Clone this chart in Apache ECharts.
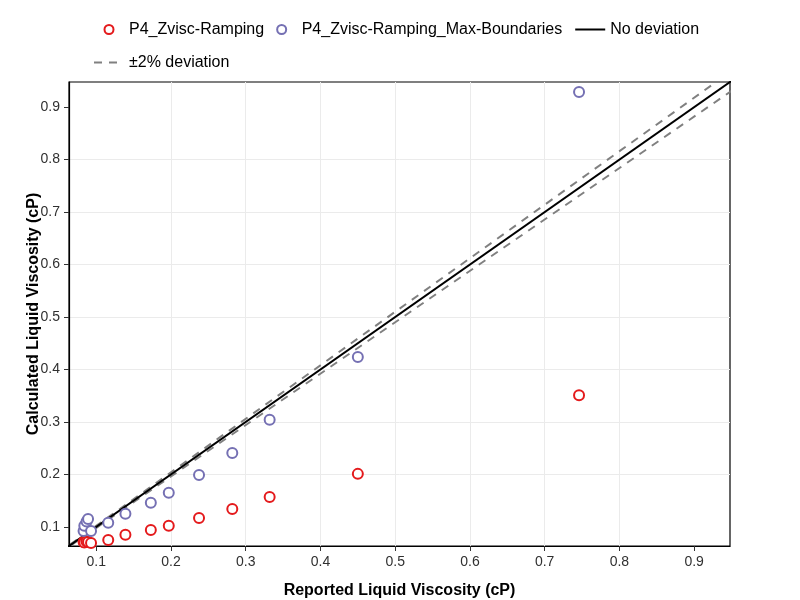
<!DOCTYPE html>
<html>
<head>
<meta charset="utf-8">
<script src="https://cdn.jsdelivr.net/npm/echarts@6/dist/echarts.min.js"></script>
<style>
  html, body { margin: 0; padding: 0; background: #fff; }
  #chart { width: 800px; height: 600px; }
</style>
</head>
<body>
<div id="chart"></div>
<script>
// reported viscosity (x) for each case
var reported = [0.083, 0.084, 0.087, 0.089, 0.093, 0.116, 0.139, 0.173, 0.197, 0.2375, 0.282, 0.332, 0.45, 0.746];
// calculated viscosity, P4_Zvisc-Ramping
var calcRamping = [0.071, 0.070, 0.072, 0.071, 0.069, 0.075, 0.085, 0.094, 0.102, 0.117, 0.134, 0.157, 0.201, 0.351];
// calculated viscosity, P4_Zvisc-Ramping_Max-Boundaries
var calcMaxBound = [0.092, 0.102, 0.110, 0.115, 0.092, 0.108, 0.125, 0.146, 0.165, 0.199, 0.241, 0.304, 0.424, 0.929];
// tick labels on both axes
var tickValues = [0.1, 0.2, 0.3, 0.4, 0.5, 0.6, 0.7, 0.8, 0.9];
// reference lines
var refX = [0.0, 1.0];
var devFactor = 0.02;

var axisMin = 0.0635, axisMax = 0.948;
var font = 'Liberation Sans';

function pairs(xs, ys) {
    var out = [];
    for (var i = 0; i < xs.length; i++) {
        out.push([xs[i], ys[i]]);
    }
    return out;
}

var noDev = refX.map(function (x) { return [x, x]; });
var upDev = refX.map(function (x) { return [x, x * (1 + devFactor)]; });
var loDev = refX.map(function (x) { return [x, x * (1 - devFactor)]; });

var myChart = echarts.init(document.getElementById('chart'));

function axis(name, gap) {
    return {
        type: 'value',
        min: axisMin,
        max: axisMax,
        splitNumber: 9,
        name: name,
        nameLocation: 'middle',
        nameGap: gap,
        nameMoveOverlap: false,
        nameTextStyle: { fontFamily: font, fontSize: 16, fontWeight: 'bold', color: '#000' },
        axisLine: { show: true, lineStyle: { color: '#000', width: 1.2 } },
        axisTick: { show: true, length: 5, customValues: tickValues, lineStyle: { color: '#333' } },
        axisLabel: {
            customValues: tickValues,
            fontFamily: font, fontSize: 14, color: '#303030', margin: 9,
            formatter: function (v) { return (+v.toFixed(2)).toString(); }
        },
        splitLine: { show: true, showMinLine: false, showMaxLine: false, lineStyle: { color: '#ebebeb', width: 1 } }
    };
}

var option = {
    animation: false,
    backgroundColor: '#fff',
    grid: {
        left: 69, right: 70, top: 82, bottom: 54,
        outerBoundsMode: 'none',
        show: true, borderColor: '#000', borderWidth: 1.2
    },
    legend: {
        left: 88, top: 14, width: 650,
        itemGap: 12, itemWidth: 30, itemHeight: 9,
        textStyle: { fontFamily: font, fontSize: 16, color: '#000', lineHeight: 21 },
        data: [
            { name: 'P4_Zvisc-Ramping' },
            { name: 'P4_Zvisc-Ramping_Max-Boundaries' },
            { name: 'No deviation', itemStyle: { opacity: 0 } },
            { name: '±2% deviation', itemStyle: { opacity: 0 } }
        ]
    },
    xAxis: axis('Reported Liquid Viscosity (cP)', 37),
    yAxis: axis('Calculated Liquid Viscosity (cP)', 27),
    series: [
        {
            name: '±2% deviation',
            type: 'line',
            data: upDev,
            symbol: 'none',
            clip: true,
            itemStyle: { color: '#808080' },
            lineStyle: { color: '#808080', width: 2, type: [8, 7] },
            z: 1
        },
        {
            name: '±2% deviation',
            type: 'line',
            data: loDev,
            symbol: 'none',
            clip: true,
            itemStyle: { color: '#808080' },
            lineStyle: { color: '#808080', width: 2, type: [8, 7] },
            z: 1
        },
        {
            name: 'No deviation',
            type: 'line',
            data: noDev,
            symbol: 'none',
            clip: true,
            itemStyle: { color: '#000' },
            lineStyle: { color: '#000', width: 2 },
            z: 2
        },
        {
            name: 'P4_Zvisc-Ramping',
            type: 'scatter',
            data: pairs(reported, calcRamping),
            symbol: 'emptyCircle',
            symbolSize: 10,
            itemStyle: { color: '#e41a1c', borderColor: '#e41a1c', borderWidth: 2, opacity: 1 },
            z: 3
        },
        {
            name: 'P4_Zvisc-Ramping_Max-Boundaries',
            type: 'scatter',
            data: pairs(reported, calcMaxBound),
            symbol: 'emptyCircle',
            symbolSize: 10,
            itemStyle: { color: '#7570b3', borderColor: '#7570b3', borderWidth: 2, opacity: 1 },
            z: 3
        }
    ]
};

if (option && typeof option === "object") {
    myChart.setOption(option, true);
}
</script>
</body>
</html>
